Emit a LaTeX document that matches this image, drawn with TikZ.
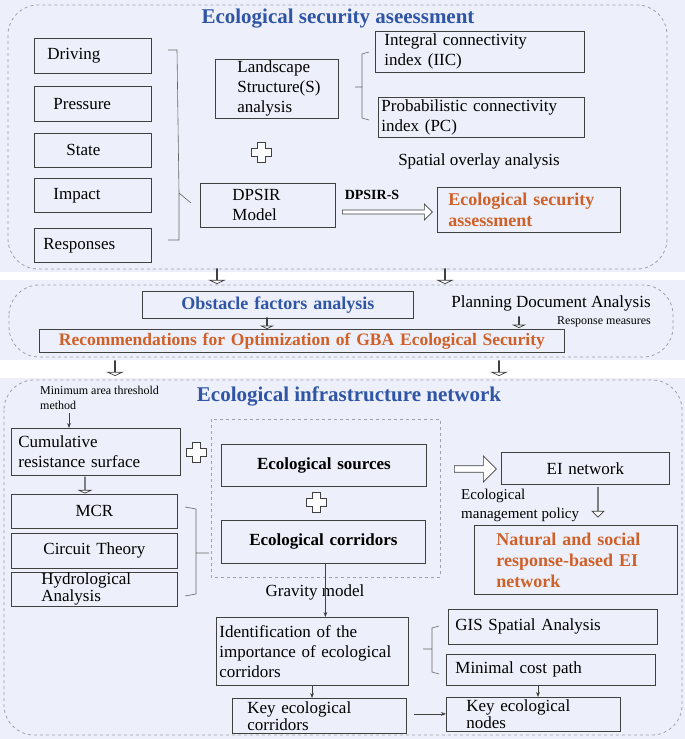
\documentclass[tikz,border=0pt]{standalone}
\usepackage{fontspec}
\setmainfont{Liberation Serif}
\usetikzlibrary{shapes.arrows,arrows.meta}
\definecolor{bgc}{HTML}{EDF0FA}
\definecolor{ttl}{HTML}{2F55A4}
\definecolor{org}{HTML}{D0602A}
\definecolor{dsh}{HTML}{A0A0A8}
\newcommand\bx[8]{\pgfmathsetmacro\bh{#5-#3}\pgfmathsetmacro\tw{#4-#2-2*#6}%
\node[box,anchor=north west,inner xsep=#6pt,inner ysep=0pt,text width=\tw pt,minimum height=\bh pt,#7] (#1) at (#2,#3) {#8};}
\newcommand{\myplus}[2]{\draw[black!75,fill=white,line width=0.7pt] (#1-4,#2-10) -- (#1+4,#2-10) -- (#1+4,#2-4) -- (#1+10,#2-4) -- (#1+10,#2+4) -- (#1+4,#2+4) -- (#1+4,#2+10) -- (#1-4,#2+10) -- (#1-4,#2+4) -- (#1-10,#2+4) -- (#1-10,#2-4) -- (#1-4,#2-4) -- cycle;}
\begin{document}
\begin{tikzpicture}[x=1pt,y=-1pt,
  box/.style={draw=black!75,line width=0.8pt,align=left,font=\fontsize{17}{20}\selectfont},
  panel/.style={draw=dsh,dashed,line width=0.8pt,rounded corners=30pt},
  title/.style={font=\fontsize{21}{23}\selectfont\bfseries,text=ttl},
  harr/.style={single arrow,draw=black!75,fill=white,line width=0.7pt,minimum height=#1,single arrow head extend=4pt,minimum width=16pt,inner sep=1pt},
  darr/.style={single arrow,draw=black!75,fill=white,line width=0.7pt,shape border rotate=270,minimum height=#1,single arrow head extend=5pt,single arrow tip angle=130,minimum width=14pt,inner sep=0pt},
  brace/.style={draw=black!60,line width=0.6pt},
  conn/.style={draw=black!75,line width=0.7pt,-{Stealth[length=5pt]}},
  lbl/.style={font=\fontsize{17}{20}\selectfont}]
\useasboundingbox (0,0) rectangle (685,739);
\fill[white] (0,0) rectangle (685,739);
\fill[bgc] (0,0) rectangle (685,272);
\fill[bgc] (0,280) rectangle (685,360);
\fill[bgc] (0,378) rectangle (685,739);
\draw[panel] (8,5) rectangle (667,269);
\draw[panel] (9,285) rectangle (673,357);
\draw[panel] (4,380) rectangle (682,735);
% ---- top
\node[title] (t1) at (338,19) {Ecological security aseessment};
\bx{drv}{34}{38}{151}{73}{13}{}{Driving}
\bx{prs}{34}{86}{151}{121}{19}{}{Pressure}
\bx{sta}{34}{133}{151}{167}{32}{}{State}
\bx{imp}{34}{178}{151}{212}{19}{}{Impact}
\bx{rsp}{34}{228}{151}{262}{9}{}{Responses}
\draw[brace] (168,50) -- (177,50) -- (179,193) -- (191,203) (179,193) -- (179,240) -- (168,240);
\bx{ls}{215}{59}{338}{118}{22}{}{Landscape\\Structure(S)\\analysis}
\bx{iic}{375}{31}{584}{72}{9}{}{Integral connectivity\\index (IIC)}
\bx{pc}{378}{97}{584}{137}{3}{}{Probabilistic connectivity\\index (PC)}
\draw[brace] (369,52) -- (362,54) -- (362,118) -- (369,120) (362,87) -- (355,87);
\myplus{261}{152}
\node[lbl] (sov) at (479,161) {Spatial overlay analysis};
\bx{dps}{200}{183}{335}{227}{32}{}{DPSIR\\Model}
\node[font=\fontsize{14}{16}\selectfont\bfseries] (dpss) at (372,195) {DPSIR-S};
\bx{esa}{437}{187}{620}{232}{11}{text=org,font=\fontsize{18}{21}\selectfont\bfseries}{Ecological security\\assessment}
\node[harr=90pt,anchor=west] (a1) at (342,212) {};
% ---- middle
\node[darr=15pt] (d1) at (217,276) {};
\node[darr=15pt] (d2) at (445,276) {};
\bx{obs}{142}{291}{413}{318}{3}{align=center,text=ttl,font=\fontsize{18}{20}\selectfont\bfseries}{Obstacle factors analysis}
\node[lbl] (pda) at (551,303) {Planning Document Analysis};
\node[darr=11pt,minimum width=11pt,single arrow head extend=4pt] (d3) at (267,323) {};
\node[darr=11pt,minimum width=11pt,single arrow head extend=4pt] (d4) at (519,322) {};
\node[font=\fontsize{12}{14}\selectfont] (rm) at (604,322) {Response measures};
\bx{rec}{39}{329}{564}{352}{1}{align=center,text=org,font=\fontsize{17.5}{20}\selectfont\bfseries}{Recommendations for Optimization of GBA Ecological Security}
\node[darr=15pt] (d5) at (115,368) {};
\node[darr=15pt] (d6) at (499,368) {};
% ---- bottom
\node[title] (t3) at (349,396) {Ecological infrastructure network};
\node[font=\fontsize{12}{15}\selectfont,align=left,anchor=north west,inner sep=0pt] (mat) at (40,386) {Minimum area threshold\\method};
\coordinate (matb) at (69,413);
\bx{crs}{11}{428}{180}{475}{7}{}{Cumulative\\resistance surface}
\draw[conn] (matb) -- (crs.north -| matb);
\myplus{196}{452}
\draw[dsh,dashed,line width=0.8pt] (211,419) rectangle (440,577);
\bx{es}{221}{444}{426}{486}{3}{align=center,font=\fontsize{17}{20}\selectfont\bfseries}{Ecological sources}
\myplus{316}{502}
\bx{ec}{221}{520}{425}{563}{3}{align=center,font=\fontsize{17}{20}\selectfont\bfseries}{Ecological corridors}
\node[darr=16pt,minimum width=12pt] (d7) at (85,485) {};
\bx{mcr}{11}{494}{177}{528}{3}{align=center}{MCR}
\bx{ct}{11}{533}{177}{568}{3}{align=center}{Circuit Theory}
\bx{hyd}{11}{572}{177}{606}{30}{font=\fontsize{17}{17}\selectfont}{Hydrological\\Analysis}
\draw[brace] (185,507) -- (196,509) -- (196,594) -- (185,596) (196,553) -- (209,553);
\node[harr=42pt,minimum width=26pt,anchor=west] (a2) at (454,469) {};
\bx{ein}{501}{452}{669}{484}{3}{align=center}{EI network}
\node[darr=30pt,minimum width=12pt,single arrow tip angle=90] (d8) at (598,502) {};
\node[font=\fontsize{15}{19}\selectfont,align=left,anchor=north west,inner sep=0pt] (emp) at (461,489) {Ecological\\management policy};
\bx{nsr}{474}{525}{677}{594}{22}{text=org,font=\fontsize{18}{21}\selectfont\bfseries}{Natural and social\\response-based EI\\network}
\node[lbl,inner sep=1pt] (grv) at (315,592) {Gravity model};
\bx{idf}{216}{617}{408}{685}{3}{}{Identification of the\\importance of ecological\\corridors}
\draw[conn] (ec.south) ++(2,0) coordinate (ecs) -- (ecs |- idf.north);
\bx{gis}{448}{609}{657}{644}{7}{}{GIS Spatial Analysis}
\bx{mcp}{446}{654}{655}{685}{9}{}{Minimal cost path}
\draw[brace] (439,626) -- (432,628) -- (432,672) -- (439,674) (432,649) -- (423,649);
\bx{kec}{232}{698}{406}{733}{15}{font=\fontsize{17}{17}\selectfont}{Key ecological\\corridors}
\bx{ken}{446}{697}{620}{731}{20}{font=\fontsize{17}{17}\selectfont}{Key ecological\\nodes}
\draw[conn] (idf.south -| 312,0) -- (kec.north -| 312,0);
\draw[conn] (mcp.south -| 538,0) -- (ken.north -| 538,0);
\draw[conn] (kec.east) ++(7,-2) coordinate (kece) -- (ken.west |- kece);
\end{tikzpicture}
\end{document}
